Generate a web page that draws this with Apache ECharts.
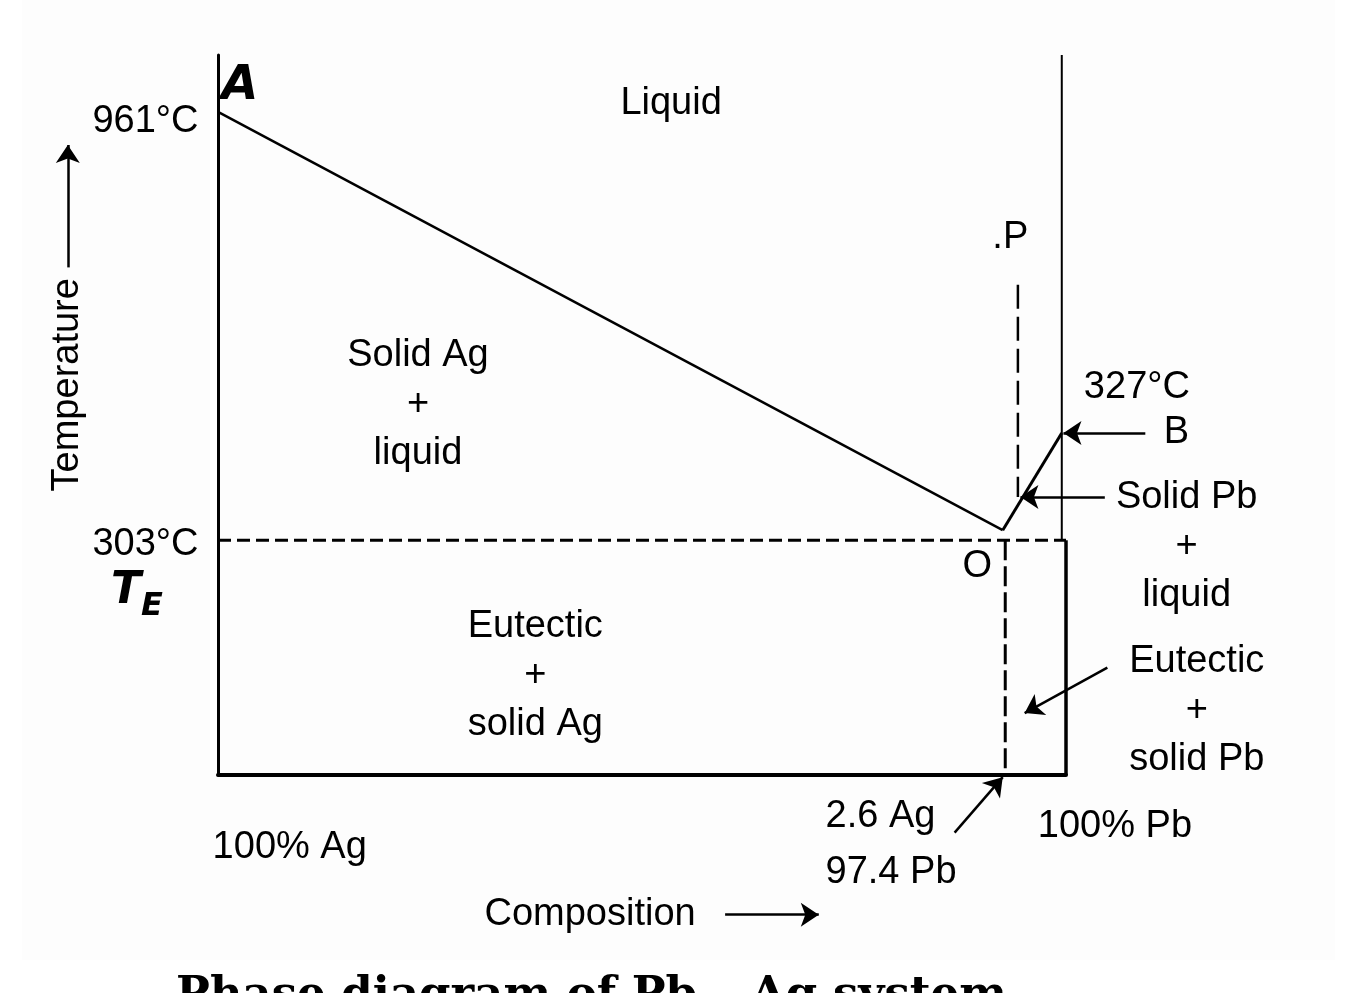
<!DOCTYPE html>
<html>
<head>
<meta charset="utf-8">
<title>Phase diagram of Pb - Ag system</title>
<script src="https://cdn.jsdelivr.net/npm/echarts@6/dist/echarts.min.js"></script>
<style>
  html, body { margin: 0; padding: 0; background: #fff; }
  #chart { width: 1345px; height: 993px; }
</style>
</head>
<body>
<div id="chart"></div>
<script>
// schematic coordinates: x = composition (0 = 100% Ag, 100 = 100% Pb), y = relative height of the diagram
var liquidusAg = [[0, 92.1], [93.0, 34.0]];      // A -> O
var liquidusPb = [[93.0, 34.0], [100, 47.5]];    // O -> B
var eutecticLine = [[0, 32.6], [100.5, 32.6]];   // 303 C line
var eutecticComp = [[93.3, 32.6], [93.3, 0]];    // below O
var pLine = [[94.8, 68.1], [94.8, 38.6]];        // P dashed line
var pbEdgeTop = [[100, 100], [100, 32.6]];
var pbEdgeBottom = [[100.5, 32.6], [100.5, 0]];

// arrows: [from, to]
var arrows = [
  [[-17.8, 70.5], [-17.8, 87.5]],   // Temperature
  [[60.1, -19.4], [71.2, -19.4]],   // Composition
  [[109.9, 47.5], [100.2, 47.5]],   // B
  [[105.1, 38.6], [95.1, 38.6]],    // Solid Pb + liquid
  [[105.4, 14.9], [95.6, 8.6]],     // Eutectic + solid Pb
  [[87.3, -8.0], [93.0, -0.3]]      // 2.6 Ag / 97.4 Pb
];

// text labels: [text, x, y]
var labels = [
  ['961°C', -8.6, 90.7],
  ['303°C', -8.6, 32.0],
  ['Liquid', 53.7, 93.3],
  ['Solid Ag\n+\nliquid', 23.7, 51.5],
  ['Eutectic\n+\nsolid Ag', 37.6, 13.8],
  ['O', 90.0, 28.9],
  ['.P', 93.9, 74.7],
  ['327°C', 108.9, 53.8],
  ['B', 113.6, 47.5],
  ['Solid Pb\n+\nliquid', 114.8, 31.8],
  ['Eutectic\n+\nsolid Pb', 116.0, 9.0],
  ['100% Ag', 8.5, -10.1],
  ['100% Pb', 106.3, -7.2],
  ['Composition', 44.1, -19.4]
];
var leftLabels = [
  ['2.6 Ag', 72.0, -5.8],
  ['97.4 Pb', 72.0, -13.6]
];
var handLabels = [
  ['{a|A}', 2.6, 95.6],
  ['{t|T}{e|E}', -9.6, 24.6]
];
var axisTitle = ['Temperature', -17.8, 54.2];

var ink = '#000';
var textFont = 'Liberation Sans';

var chart = echarts.init(document.getElementById('chart'));

function seg(pts, width, type) {
  return {
    type: 'line',
    data: pts,
    symbol: 'none',
    silent: true,
    animation: false,
    clip: false,
    lineStyle: { color: ink, width: width, type: type }
  };
}

function textSeries(items, label) {
  return {
    type: 'scatter',
    clip: false,
    animation: false,
    silent: true,
    symbolSize: 0,
    itemStyle: { opacity: 1, color: ink },
    data: items.map(function (l) { return { value: [l[1], l[2]], name: l[0] }; }),
    label: Object.assign({ show: true, position: 'inside', formatter: '{b}', color: ink, opacity: 1 }, label)
  };
}

var series = [
  seg(liquidusAg, 2.5, 'solid'),
  seg(liquidusPb, 3, 'solid'),
  seg(eutecticLine, 3, [13, 6]),
  seg(eutecticComp, 3, [20, 6]),
  seg(pLine, 2.5, [24, 8]),
  seg(pbEdgeTop, 2, 'solid'),
  seg(pbEdgeBottom, 3.5, 'solid'),
  {
    type: 'lines',
    coordinateSystem: 'cartesian2d',
    clip: false,
    animation: false,
    silent: true,
    symbol: ['none', 'arrow'],
    symbolSize: 18,
    lineStyle: { color: ink, width: 2.5, opacity: 1, curveness: 0 },
    data: arrows.map(function (a) { return { coords: a }; })
  },
  textSeries(labels, { fontFamily: textFont, fontSize: 38, lineHeight: 49, align: 'center' }),
  textSeries(leftLabels, { fontFamily: textFont, fontSize: 38, align: 'left' }),
  textSeries(handLabels, {
    rich: {
      a: { fontFamily: 'DejaVu Sans', fontWeight: 'bold', fontStyle: 'italic', fontSize: 48, color: ink },
      t: { fontFamily: 'DejaVu Sans', fontWeight: 'bold', fontStyle: 'italic', fontSize: 44, color: ink, padding: [0, 0, 12, 0] },
      e: { fontFamily: 'DejaVu Sans', fontWeight: 'bold', fontStyle: 'italic', fontSize: 32, color: ink, padding: [18, 0, 0, 0] }
    }
  }),
  textSeries([axisTitle], { fontFamily: textFont, fontSize: 38, rotate: 90 })
];

chart.setOption({
  backgroundColor: '#fff',
  animation: false,
  graphic: [{
    type: 'rect',
    shape: { x: 22, y: 0, width: 1313, height: 960 },
    style: { fill: '#fdfdfd' },
    z: -10,
    silent: true
  }],
  title: {
    text: 'Phase diagram of Pb – Ag system',
    left: 176,
    top: 974,
    padding: 0,
    textStyle: { fontFamily: 'DejaVu Serif', fontWeight: 'bold', fontSize: 45, color: '#000' }
  },
  grid: { left: 218, top: 55, right: 279, bottom: 218, containLabel: false },
  xAxis: {
    type: 'value',
    min: 0,
    max: 100.5,
    axisLine: { show: true, lineStyle: { color: ink, width: 4 } },
    axisTick: { show: false },
    axisLabel: { show: false },
    splitLine: { show: false }
  },
  yAxis: {
    type: 'value',
    min: 0,
    max: 100,
    axisLine: { show: true, lineStyle: { color: ink, width: 3 } },
    axisTick: { show: false },
    axisLabel: { show: false },
    splitLine: { show: false }
  },
  series: series
});
</script>
</body>
</html>
